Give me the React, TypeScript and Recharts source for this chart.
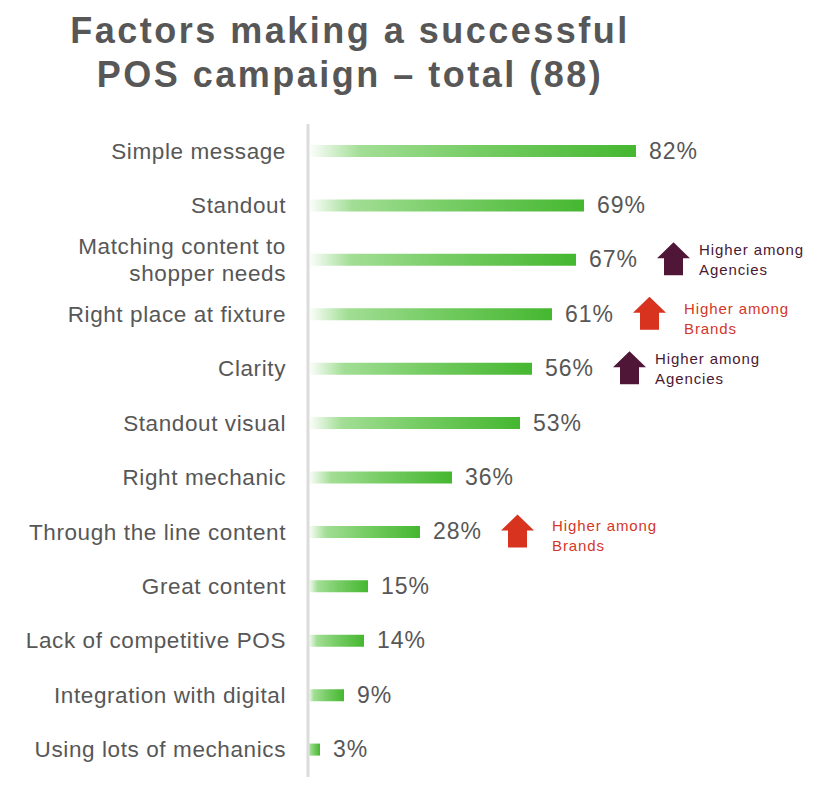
import { BarChart, Bar, XAxis, YAxis, LabelList } from "recharts";

const categories = [
  "Simple message",
  "Standout",
  "Matching content to shopper needs",
  "Right place at fixture",
  "Clarity",
  "Standout visual",
  "Right mechanic",
  "Through the line content",
  "Great content",
  "Lack of competitive POS",
  "Integration with digital",
  "Using lots of mechanics",
];

const values = [82, 69, 67, 61, 56, 53, 36, 28, 15, 14, 9, 3];

const higherAmong: (string | null)[] = [
  null, null, "Agencies", "Brands", "Agencies", null, null, "Brands", null, null, null, null,
];

const tickLines: Record<string, string[]> = {
  "Matching content to shopper needs": ["Matching content to", "shopper needs"],
};

const data = categories.map((name, i) => ({
  name,
  value: values[i],
  higher: higherAmong[i],
}));

const FONT = '"Liberation Sans", Arial, sans-serif';
const GREY = "#575757";
const GROUP_COLORS: Record<string, { arrow: string; text: string }> = {
  Agencies: { arrow: "#4f1638", text: "#4a1833" },
  Brands: { arrow: "#d8331f", text: "#d2372a" },
};

const CategoryTick = (props: any) => {
  const { x, y, payload } = props;
  const lines = tickLines[payload.value] || [payload.value];
  const step = 27;
  const top = y - ((lines.length - 1) * step) / 2;
  return (
    <text
      textAnchor="end"
      fill={GREY}
      fontSize={22.5}
      fontFamily={FONT}
      letterSpacing={0.6}
    >
      {lines.map((line: string, i: number) => (
        <tspan key={i} x={x} y={top + i * step + 7.5}>
          {line}
        </tspan>
      ))}
    </text>
  );
};

const ValueLabel = (props: any) => {
  const { x, y, width, height, value, index } = props;
  const end = x + width;
  const cy = y + height / 2;
  const group = higherAmong[index];
  let note = null;
  if (group) {
    const c = GROUP_COLORS[group];
    const ax = end + 81;
    const ay = cy - 17.5;
    const tx = ax + (group === "Brands" ? 51 : 42);
    const l1 = group === "Brands" ? cy - 6 : cy - 10;
    note = (
      <g>
        <path
          d={`M${ax + 16.5},${ay} L${ax + 33},${ay + 16} L${ax + 26},${ay + 16} L${ax + 26},${ay + 33} L${ax + 7},${ay + 33} L${ax + 7},${ay + 16} L${ax},${ay + 16} Z`}
          fill={c.arrow}
        />
        <text fill={c.text} fontSize={15} fontFamily={FONT} letterSpacing={0.9}>
          <tspan x={tx} y={l1 + 5.5}>Higher among</tspan>
          <tspan x={tx} y={l1 + 25.5}>{group}</tspan>
        </text>
      </g>
    );
  }
  return (
    <g>
      <text
        x={end + 13}
        y={cy + 7.5}
        fill={GREY}
        fontSize={23}
        fontFamily={FONT}
        letterSpacing={1}
      >
        {value}%
      </text>
      {note}
    </g>
  );
};

export default function App() {
  return (
    <div style={{ position: "relative", width: 821, height: 795 }}>
      <style>{`body{margin:0}`}</style>
      <svg
        width={821}
        height={110}
        style={{ position: "absolute", left: 0, top: 0 }}
      >
        <text
          textAnchor="middle"
          fill={GREY}
          fontSize={36}
          fontWeight="bold"
          fontFamily={FONT}
          letterSpacing={2.5}
        >
          <tspan x={350} y={43}>Factors making a successful</tspan>
          <tspan x={350} y={87}>POS campaign – total (88)</tspan>
        </text>
      </svg>
      <BarChart
        width={821}
        height={795}
        data={data}
        layout="vertical"
        margin={{ top: 124, right: 113, bottom: 18, left: 0 }}
      >
        <defs>
          <linearGradient id="barFade" x1="0" y1="0" x2="1" y2="0">
            <stop offset="0%" stopColor="#ffffff" />
            <stop offset="16%" stopColor="#a2de95" />
            <stop offset="50%" stopColor="#78cd66" />
            <stop offset="100%" stopColor="#45b730" />
          </linearGradient>
        </defs>
        <XAxis type="number" domain={[0, 100]} hide />
        <YAxis
          type="category"
          dataKey="name"
          width={308}
          tickLine={false}
          tickSize={0}
          tickMargin={22}
          axisLine={{ stroke: "#dcdcdc", strokeWidth: 3 }}
          tick={<CategoryTick />}
          interval={0}
        />
        <Bar
          dataKey="value"
          fill="url(#barFade)"
          barSize={12}
          isAnimationActive={false}
        >
          <LabelList dataKey="value" content={<ValueLabel />} />
        </Bar>
      </BarChart>
    </div>
  );
}
